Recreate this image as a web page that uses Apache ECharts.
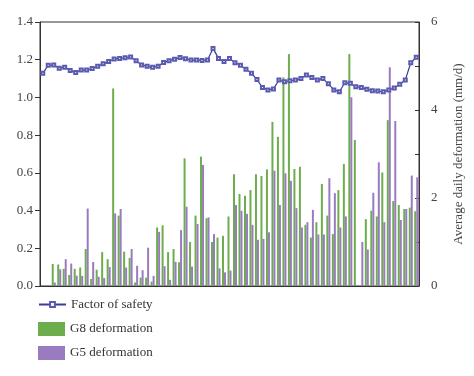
<!DOCTYPE html>
<html>
<head>
<meta charset="utf-8">
<script src="https://cdn.jsdelivr.net/npm/echarts@6/dist/echarts.min.js"></script>
<style>
  html, body { margin: 0; padding: 0; background: #fff; }
  #chart { width: 474px; height: 376px; }
</style>
</head>
<body>
<div id="chart"></div>
<script>
// one category per day, 69 in all; no deformation readings for the first two
const days = Array.from({ length: 69 }, (_, i) => String(i + 1));

const safety = [
  1.128, 1.17, 1.172, 1.155, 1.16, 1.143, 1.132, 1.145, 1.145, 1.153,
  1.165, 1.178, 1.19, 1.204, 1.207, 1.21, 1.214, 1.195, 1.172, 1.165,
  1.16, 1.165, 1.185, 1.195, 1.203, 1.212, 1.205, 1.198, 1.198, 1.196,
  1.198, 1.26, 1.207, 1.19, 1.207, 1.184, 1.17, 1.15, 1.128, 1.095,
  1.052, 1.04, 1.045, 1.092, 1.083, 1.089, 1.092, 1.1, 1.119, 1.106,
  1.092, 1.1, 1.072, 1.04, 1.03, 1.078, 1.075, 1.057, 1.053, 1.043,
  1.036, 1.034, 1.03, 1.04, 1.05, 1.07, 1.092, 1.184, 1.213,
];

const g8 = [
  null, null, 0.5, 0.49, 0.39, 0.25, 0.39, 0.42, 0.84, 0.16,
  0.37, 0.77, 0.61, 4.49, 1.6, 0.78, 0.64, 0.08, 0.19, 0.19,
  0.1, 1.33, 1.38, 0.77, 0.84, 0.54, 2.9, 1.0, 1.6, 2.94,
  1.54, 1.0, 1.1, 1.14, 1.58, 2.54, 2.09, 2.05, 2.18, 2.54,
  2.5, 2.65, 3.73, 3.39, 4.74, 5.27, 2.66, 2.71, 1.39, 1.1,
  1.45, 2.32, 1.6, 1.18, 2.18, 2.77, 5.27, 3.32, 0, 1.52,
  1.71, 1.58, 2.58, 3.77, 1.93, 1.84, 1.75, 1.78, 1.7,
];

const g5 = [
  null, null, 0.08, 0.38, 0.61, 0.51, 0.235, 0.23, 1.76, 0.545,
  0.21, 0.18, 0.43, 1.65, 1.75, 0.42, 0.84, 0.46, 0.36, 0.87,
  0.23, 1.23, 0.45, 0.14, 0.55, 1.27, 1.8, 0.44, 1.41, 2.75,
  1.56, 1.18, 0.4, 0.31, 0.35, 1.84, 1.71, 1.64, 1.39, 1.05,
  1.07, 1.22, 2.62, 1.84, 2.56, 2.39, 1.77, 1.33, 1.45, 1.73,
  1.17, 1.17, 2.45, 2.11, 1.33, 1.58, 4.29, 0.02, 1.0, 0.83,
  2.12, 2.81, 1.45, 4.97, 3.75, 1.5, 1.75, 2.51, 2.47,
];

const font = "Liberation Serif";
const axisColor = "#333";
const legendText = { fontFamily: font, fontSize: 13, color: "#333" };

const chart = echarts.init(document.getElementById("chart"));

chart.setOption({
  animation: false,
  textStyle: { fontFamily: font },
  grid: {
    left: 40,
    right: 55,
    top: 22,
    bottom: 90,
    show: true,
    borderColor: axisColor,
    borderWidth: 1,
  },
  legend: [
    {
      left: 33,
      top: 293,
      itemWidth: 27,
      itemHeight: 6,
      textStyle: legendText,
      data: ["Factor of safety"],
    },
    {
      orient: "vertical",
      left: 33,
      top: 317,
      itemWidth: 27,
      itemHeight: 14,
      itemGap: 10,
      textStyle: legendText,
      data: [
        { name: "G8 deformation", icon: "rect" },
        { name: "G5 deformation", icon: "rect" },
      ],
    },
  ],
  xAxis: {
    type: "category",
    data: days,
    boundaryGap: true,
    axisLine: { lineStyle: { color: axisColor } },
    axisTick: { inside: true, length: 3, interval: 11, lineStyle: { color: "#000" } },
    axisLabel: { show: false },
    splitLine: { show: false },
  },
  yAxis: [
    {
      type: "value",
      min: 0,
      max: 1.4,
      interval: 0.2,
      axisLine: { show: true, lineStyle: { color: axisColor } },
      axisTick: { show: true, length: 5, lineStyle: { color: axisColor } },
      axisLabel: {
        fontFamily: font,
        fontSize: 13,
        color: "#444",
        margin: 7,
        formatter: (v) => v.toFixed(1),
      },
      splitLine: { show: false },
    },
    {
      type: "value",
      min: 0,
      max: 6,
      interval: 1,
      name: "Average daily deformation (mm/d)",
      nameLocation: "middle",
      nameRotate: 90,
      nameGap: 33,
      nameTextStyle: { fontFamily: font, fontSize: 13, color: "#444" },
      axisLine: { show: true, lineStyle: { color: axisColor } },
      axisTick: { show: true, inside: true, length: 4, lineStyle: { color: axisColor } },
      axisLabel: {
        fontFamily: font,
        fontSize: 13,
        color: "#444",
        margin: 12,
        formatter: (v) => (v % 2 === 0 ? String(v) : ""),
      },
      splitLine: { show: false },
    },
  ],
  series: [
    {
      name: "G8 deformation",
      type: "bar",
      yAxisIndex: 1,
      data: g8,
      barWidth: 2,
      barGap: "0%",
      itemStyle: { color: "#6dad4e" },
    },
    {
      name: "G5 deformation",
      type: "bar",
      yAxisIndex: 1,
      data: g5,
      barWidth: 2,
      barGap: "0%",
      itemStyle: { color: "#9b7bc0" },
    },
    {
      name: "Factor of safety",
      type: "line",
      yAxisIndex: 0,
      data: safety,
      z: 5,
      symbol: "emptyRect",
      symbolSize: 3,
      showSymbol: true,
      showAllSymbol: true,
      lineStyle: { width: 1.2, color: "#3c3c96" },
      itemStyle: { color: "#5a5ab0", borderWidth: 0.8 },
    },
  ],
});

window.addEventListener("resize", () => {
  chart.resize();
});
</script>
</body>
</html>
